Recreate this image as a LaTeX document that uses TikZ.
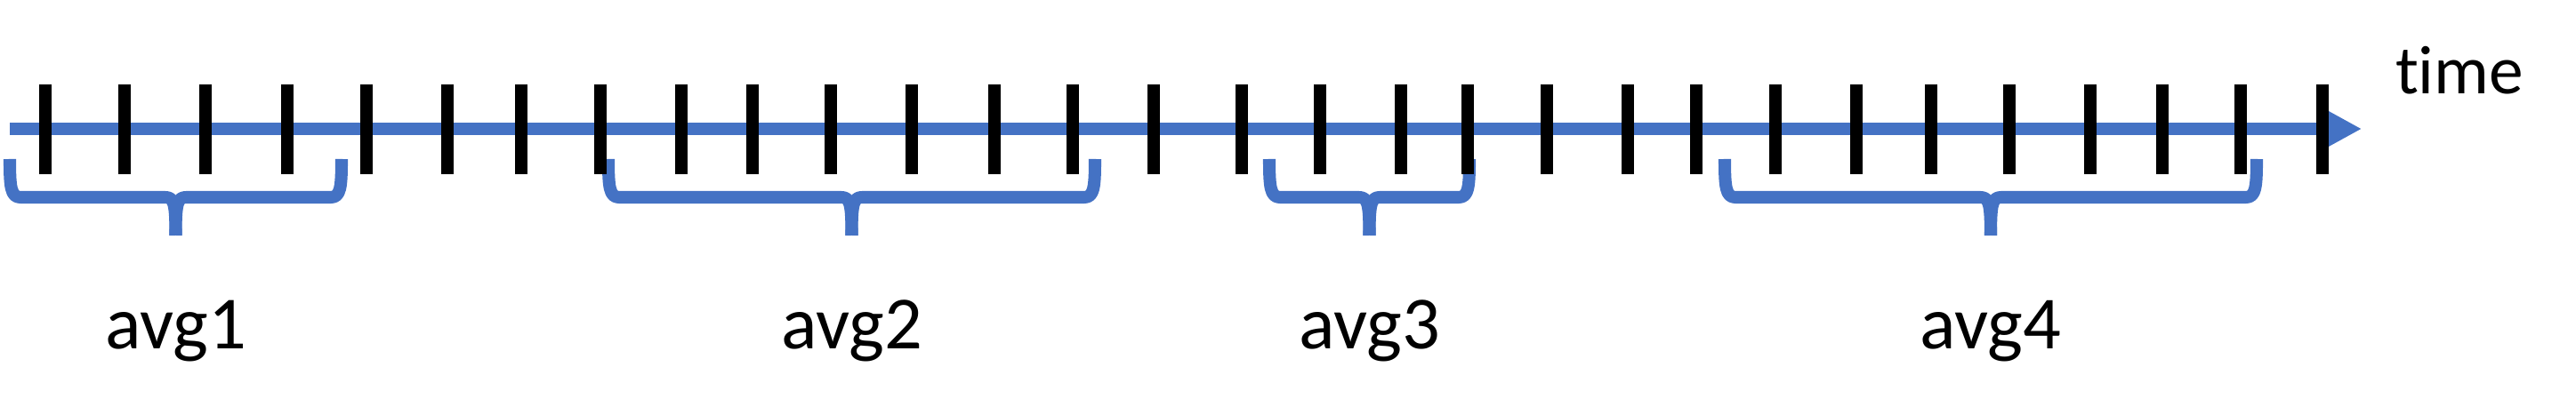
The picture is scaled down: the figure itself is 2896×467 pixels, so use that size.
\documentclass[tikz,border=0pt]{standalone}
\usepackage{fontspec}
\setmainfont{Carlito}[Ligatures=CommonOff]
\usetikzlibrary{arrows.meta}
\definecolor{officeblue}{RGB}{68,114,196}
\tikzset{
  {time line/.style} ={draw=officeblue, line width=4pt,
                       -{Triangle[length=3.7mm,width=3.7mm]}},
  {time tick/.style} ={draw=black, line width=4pt},
  {avg brace/.style} ={draw=officeblue, line width=4pt, line join=round},
  {avg label/.style} ={anchor=base, inner sep=0,
                       font=\fontsize{24}{29}\selectfont},
  {time label/.style} ={anchor=base, inner sep=0,
                       font=\fontsize{22}{26}\selectfont},
}

\begin{document}
\begin{tikzpicture}[x=0.01cm,y=-0.01cm]
\useasboundingbox (0,0) rectangle (2896,467);
\coordinate (start) at (11,145);
\coordinate (end) at (2655,145);
\draw[time line] (start) -- (end);
\node[time label] (time) at (2765,106) {time};
\foreach \l/\r/\n in {11/384/1,684/1231/2,1427/1652/3,1939/2537/4}{
  \pgfmathsetmacro\m{(\l+\r)/2}
  \draw[avg brace] (\l,179) .. controls (\l,210) and (\l+1,222) .. (\l+12,222)
        -- (\m-12,222) .. controls (\m-2,222) and (\m,228) .. (\m,265);
  \draw[avg brace] (\r,179) .. controls (\r,210) and (\r-1,222) .. (\r-12,222)
        -- (\m+12,222) .. controls (\m+2,222) and (\m,228) .. (\m,265);
  \node[avg label] (avg\n) at (\m,393) {avg\n};
}
\foreach \x in {51,140,231,323,412,503,586,675,766,846,934,1025,1118,1206,
                1297,1396,1484,1575,1650,1739,1830,1907,1996,2087,2171,
                2259,2350,2431,2519,2611}
  \draw[time tick] (\x,95) -- (\x,196);
\end{tikzpicture}
\end{document}
